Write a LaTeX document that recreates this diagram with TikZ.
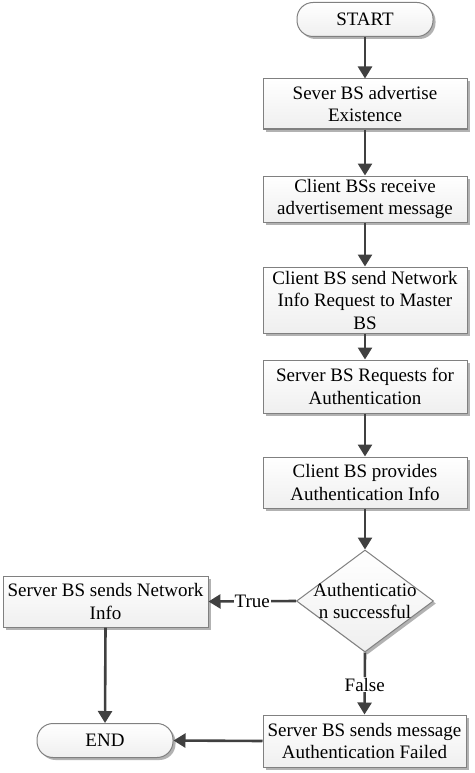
\documentclass[tikz,border=0pt]{standalone}
\usepackage{fontspec}
\setmainfont{Liberation Serif}
\usetikzlibrary{arrows.meta,shapes.geometric,shadows}
\definecolor{boxfill}{HTML}{EFEFEF}
\definecolor{boxline}{HTML}{808080}
\definecolor{arrowc}{HTML}{404040}
\tikzset{
  fc/.style={draw=boxline, line width=1pt, top color=white, bottom color=boxfill,
    align=center, font=\fontsize{19}{22.5}\selectfont, inner sep=0pt,
    drop shadow={shadow xshift=2.5pt, shadow yshift=-2.5pt, fill=black!30, opacity=1}},
  procbox/.style={fc, rectangle, minimum width=204pt},
  term/.style={fc, rectangle, rounded corners=16pt, minimum width=136pt, minimum height=34pt},
  decis/.style={fc, diamond, minimum width=137pt, minimum height=102pt, aspect=1.34},
  flow/.style={draw=arrowc, line width=2.6pt, -{Triangle[length=12pt,width=14pt]}},
  lbl/.style={font=\fontsize{19}{22}\selectfont, fill=white, inner sep=1pt}
}
\begin{document}
\begin{tikzpicture}[x=1pt,y=-1pt]
\useasboundingbox (0,0) rectangle (474,773);
\node[term] (start) at (365,19.5) {START};
\node[procbox, minimum height=50pt] (b1) at (365,104) {Sever BS advertise\\Existence};
\node[procbox, minimum height=46pt] (b2) at (365,199) {Client BSs receive\\advertisement message};
\node[procbox, minimum height=66pt] (b3) at (365,300) {Client BS send Network\\Info Request to Master\\BS};
\node[procbox, minimum height=53pt] (b4) at (365,386.5) {Server BS Requests for\\Authentication};
\node[procbox, minimum height=51pt] (b5) at (365,482.5) {Client BS provides\\Authentication Info};
\node[decis] (d) at (365,601) {};
\node[align=center, font=\fontsize{19}{22.5}\selectfont] (dt) at (365,601) {Authenticatio\\n successful};
\node[procbox, minimum width=205pt, minimum height=51pt] (left) at (105.5,601.5) {Server BS sends Network\\Info};
\node[procbox, minimum width=203pt, minimum height=52pt] (fail) at (364.5,741) {Server BS sends message\\Authentication Failed};
\node[term] (end) at (105,740.5) {END};
\draw[flow] (start) -- (b1);
\draw[flow] (b1) -- (b2);
\draw[flow] (b2) -- (b3);
\draw[flow] (b3) -- (b4);
\draw[flow] (b4) -- (b5);
\draw[flow] (b5) -- (d);
\draw[flow] (d.west) -- node[lbl] (t) {True} (left.east);
\draw[flow] (d.south) -- node[lbl, pos=0.52] (f) {False} (fail.north);
\draw[flow] (left.south) -- (end.north);
\draw[flow] (fail.west) -- (end.east);
\end{tikzpicture}
\end{document}
